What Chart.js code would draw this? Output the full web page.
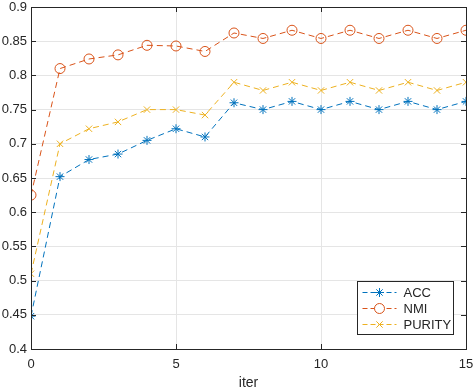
<!DOCTYPE html>
<html>
<head>
<meta charset="utf-8">
<script src="https://cdn.jsdelivr.net/npm/chart.js@4"></script>
<style>
  html, body { margin: 0; padding: 0; background: #fff; }
  #wrap { width: 474px; height: 388px; }
</style>
</head>
<body>
<div id="wrap"><canvas id="chart"></canvas></div>
<script>
// ─── DATA ───────────────────────────────────────────
const iters  = [0, 1, 2, 3, 4, 5, 6, 7, 8, 9, 10, 11, 12, 13, 14, 15];
const acc    = [0.448, 0.652, 0.677, 0.685, 0.705, 0.722, 0.710, 0.760, 0.750, 0.762, 0.750, 0.762, 0.750, 0.762, 0.750, 0.762];
const nmi    = [0.625, 0.810, 0.824, 0.830, 0.844, 0.843, 0.835, 0.862, 0.854, 0.866, 0.854, 0.866, 0.854, 0.866, 0.854, 0.866];
const purity = [0.510, 0.700, 0.722, 0.732, 0.750, 0.750, 0.742, 0.790, 0.778, 0.790, 0.778, 0.790, 0.778, 0.790, 0.778, 0.790];
const xTicks = [0, 5, 10, 15];
const yTicks = [0.4, 0.45, 0.5, 0.55, 0.6, 0.65, 0.7, 0.75, 0.8, 0.85, 0.9];

const COLORS = { acc: '#0072BD', nmi: '#D95319', purity: '#EDB120' };
const FONT = "'Liberation Sans', Arial, sans-serif";
const AXIS = '#262626';

const toPts = arr => arr.map((v, i) => ({ x: iters[i], y: v }));

// ─── BOX + INWARD TICKS + LEGEND ────────────────────
const matlabBox = {
  id: 'matlabBox',
  afterDatasetsDraw(chart) {
    const { ctx, chartArea: a, scales } = chart;
    ctx.save();
    ctx.strokeStyle = AXIS;
    ctx.lineWidth = 1;
    ctx.strokeRect(a.left + 0.5, a.top + 0.5, a.right - a.left, a.bottom - a.top);
    ctx.beginPath();
    yTicks.forEach(v => {
      const y = Math.round(scales.y.getPixelForValue(v)) + 0.5;
      ctx.moveTo(a.left, y); ctx.lineTo(a.left + 5, y);
      ctx.moveTo(a.right, y); ctx.lineTo(a.right - 5, y);
    });
    xTicks.forEach(v => {
      const x = Math.round(scales.x.getPixelForValue(v)) + 0.5;
      ctx.moveTo(x, a.bottom); ctx.lineTo(x, a.bottom - 5);
      ctx.moveTo(x, a.top); ctx.lineTo(x, a.top + 5);
    });
    ctx.stroke();

    // legend box (bottom-right, inside axes)
    const bx = 357.5, by = 281.5, bw = 96, bh = 53;
    ctx.fillStyle = '#fff';
    ctx.fillRect(bx, by, bw, bh);
    ctx.strokeStyle = AXIS;
    ctx.strokeRect(bx, by, bw, bh);
    ctx.font = '13px ' + FONT;
    ctx.textBaseline = 'middle';
    chart.data.datasets.forEach((ds, i) => {
      const y = by + 11 + i * 16;
      ctx.strokeStyle = ds.borderColor;
      ctx.setLineDash([5, 3]);
      ctx.beginPath();
      ctx.moveTo(bx + 5, y); ctx.lineTo(bx + 39, y);
      ctx.stroke();
      ctx.setLineDash([]);
      ctx.fillStyle = '#fff';
      Chart.helpers.drawPoint(ctx, {
        pointStyle: ds.pointStyle, radius: ds.pointRadius, borderWidth: 1
      }, bx + 22, y);
      ctx.fillStyle = AXIS;
      ctx.fillText(ds.label, bx + 46, y + 1);
    });
    ctx.restore();
  }
};

function series(label, data, color, style, radius) {
  return {
    label, data: toPts(data),
    borderColor: color, backgroundColor: 'transparent',
    borderWidth: 1, borderDash: [6, 4],
    pointStyle: style, pointRadius: radius,
    pointBorderColor: color, pointBackgroundColor: 'transparent',
    pointBorderWidth: 1, tension: 0
  };
}

new Chart(document.getElementById('chart'), {
  type: 'line',
  data: {
    datasets: [
      series('ACC', acc, COLORS.acc, 'star', 4.5),
      series('NMI', nmi, COLORS.nmi, 'circle', 5),
      series('PURITY', purity, COLORS.purity, 'crossRot', 4.5)
    ]
  },
  options: {
    responsive: true,
    maintainAspectRatio: false,
    animation: false,
    layout: { padding: { top: 7, right: 8, left: 0, bottom: 0 } },
    plugins: { legend: { display: false }, tooltip: { enabled: false } },
    scales: {
      x: {
        type: 'linear', min: 0, max: 15,
        afterBuildTicks: s => { s.ticks = xTicks.map(v => ({ value: v })); },
        afterFit: s => { s.height = 39; s.paddingLeft = 0; s.paddingRight = 0; },
        grid: { color: '#e5e5e5', drawTicks: false },
        border: { display: false },
        ticks: { color: AXIS, font: { family: FONT, size: 13 }, padding: 8, maxRotation: 0 },
        title: { display: true, text: 'iter', color: AXIS, font: { family: FONT, size: 14 }, padding: { top: 0, bottom: -4 } }
      },
      y: {
        min: 0.4, max: 0.9,
        afterBuildTicks: s => { s.ticks = yTicks.map(v => ({ value: v })); },
        afterFit: s => { s.width = 31; s.paddingTop = 0; s.paddingBottom = 0; },
        grid: { color: '#e5e5e5', drawTicks: false },
        border: { display: false },
        ticks: {
          color: AXIS, font: { family: FONT, size: 13 }, padding: 4,
          callback: v => String(+v.toFixed(2))
        }
      }
    }
  },
  plugins: [matlabBox]
});
</script>
</body>
</html>
